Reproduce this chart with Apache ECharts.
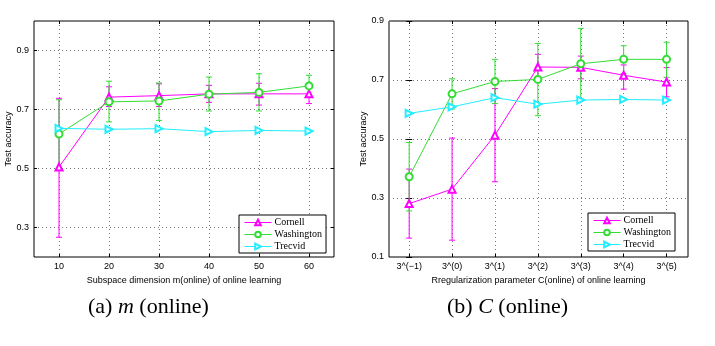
<!DOCTYPE html>
<html><head><meta charset="utf-8">
<script src="https://cdn.jsdelivr.net/npm/echarts@6/dist/echarts.min.js"></script>
<style>html,body{margin:0;padding:0;background:#fff}#c{width:715px;height:346px}</style>
</head><body><div id="c"></div>
<script>
// ---- Data: plot (a) m (online)
const mValues = [10, 20, 30, 40, 50, 60];
const mCornell     = [0.505, 0.742, 0.747, 0.753, 0.753, 0.753];
const mCornellLo   = [0.267, 0.710, 0.710, 0.724, 0.715, 0.720];
const mCornellHi   = [0.738, 0.777, 0.787, 0.782, 0.789, 0.787];
const mWashington   = [0.617, 0.726, 0.729, 0.752, 0.758, 0.780];
const mWashingtonLo = [0.502, 0.658, 0.663, 0.695, 0.695, 0.744];
const mWashingtonHi = [0.733, 0.796, 0.790, 0.810, 0.821, 0.816];
const mTrecvid = [0.636, 0.633, 0.635, 0.625, 0.629, 0.627];
const mYTicks = [0.3, 0.5, 0.7, 0.9];

// ---- Data: plot (b) C (online)
const cLabels = ['3^(\u22121)', '3^(0)', '3^(1)', '3^(2)', '3^(3)', '3^(4)', '3^(5)'];
const cCornell     = [0.281, 0.330, 0.513, 0.744, 0.743, 0.716, 0.693];
const cCornellLo   = [0.164, 0.157, 0.355, 0.700, 0.704, 0.669, 0.643];
const cCornellHi   = [0.398, 0.503, 0.671, 0.787, 0.781, 0.751, 0.742];
const cWashington   = [0.372, 0.653, 0.695, 0.702, 0.755, 0.770, 0.770];
const cWashingtonLo = [0.256, 0.602, 0.620, 0.579, 0.635, 0.722, 0.709];
const cWashingtonHi = [0.488, 0.704, 0.770, 0.824, 0.875, 0.816, 0.828];
const cTrecvid = [0.587, 0.609, 0.640, 0.618, 0.632, 0.634, 0.632];
const cYTicks = [0.1, 0.3, 0.5, 0.7, 0.9];

const seriesNames = ['Cornell', 'Washington', 'Trecvid'];
const COL = {Cornell: '#ff00ff', Washington: '#33dd33', Trecvid: '#22eeff'};

const xsC = cLabels.map((_, i) => i);
const pairs = (xs, ys) => xs.map((x, i) => [x, ys[i]]);
const errData = (xs, lo, hi) => xs.map((x, i) => [x, lo[i], hi[i]]);

function errSeries(name, xi, yi, xs, lo, hi, color) {
  return {
    type: 'custom', name: name + ' err', xAxisIndex: xi, yAxisIndex: yi, z: 1,
    data: errData(xs, lo, hi), encode: {x: 0, y: [1, 2]}, silent: true,
    renderItem: function (params, api) {
      const x = api.value(0);
      const a = api.coord([x, api.value(1)]);
      const b = api.coord([x, api.value(2)]);
      const w = 3;
      const st = {stroke: color, lineWidth: 1};
      return {type: 'group', children: [
        {type: 'line', shape: {x1: a[0], y1: a[1], x2: b[0], y2: b[1]}, style: st},
        {type: 'line', shape: {x1: a[0] - w, y1: a[1], x2: a[0] + w, y2: a[1]}, style: st},
        {type: 'line', shape: {x1: b[0] - w, y1: b[1], x2: b[0] + w, y2: b[1]}, style: st}
      ]};
    }
  };
}
function lineSeries(name, xi, yi, data, symbol, rot) {
  return {
    type: 'line', name: name, xAxisIndex: xi, yAxisIndex: yi, z: 3,
    data: data, symbol: symbol, symbolSize: 7, symbolRotate: rot || 0,
    showAllSymbol: true,
    lineStyle: {color: COL[name], width: 1}, itemStyle: {color: COL[name], borderColor: COL[name], borderWidth: 1},
    emphasis: {disabled: true}, animation: false
  };
}

const tickFont = {fontFamily: 'Liberation Sans, Arial, sans-serif', fontSize: 9, color: '#000'};
const gridLine = {show: true, lineStyle: {color: '#777', type: [1, 3], width: 1}};

function xAxisCfg(gi, min, max, vals, fmt, name, pos) {
  const main = pos === 'bottom';
  return {
    type: 'value', gridIndex: gi, min: min, max: max, position: pos,
    axisLine: {show: false},
    axisTick: {show: true, inside: true, length: 3, customValues: vals, lineStyle: {color: '#000'}},
    axisLabel: main ? Object.assign({customValues: vals, formatter: fmt, margin: 5}, tickFont) : {show: false},
    splitLine: main ? gridLine : {show: false},
    name: main ? name : '', nameLocation: 'middle', nameGap: 17,
    nameTextStyle: {fontFamily: 'Liberation Sans, Arial, sans-serif', fontSize: 9, color: '#000'}
  };
}
function yAxisCfg(gi, min, max, vals, pos) {
  const main = pos === 'left';
  return {
    type: 'value', gridIndex: gi, min: min, max: max, position: pos,
    axisLine: {show: false},
    axisTick: {show: true, inside: true, length: 3, customValues: vals, lineStyle: {color: '#000'}},
    axisLabel: main ? Object.assign({customValues: vals, formatter: v => v.toFixed(1), margin: 5}, tickFont) : {show: false},
    splitLine: main ? gridLine : {show: false},
    name: main ? 'Test accuracy' : '', nameLocation: 'middle', nameGap: 19, nameRotate: 90,
    nameTextStyle: {fontFamily: 'Liberation Sans, Arial, sans-serif', fontSize: 9, color: '#000'}
  };
}

const legendCommon = {
  orient: 'vertical', data: seriesNames, itemWidth: 27, itemHeight: 7, itemGap: 1,
  padding: [2, 4, 1, 5], borderColor: '#000', borderWidth: 1, backgroundColor: '#fff',
  lineStyle: {width: 1},
  textStyle: {fontFamily: 'Liberation Serif, DejaVu Serif, serif', fontSize: 10, lineHeight: 11, color: '#000', padding: [0, 0, 0, -2]},
  selectedMode: false
};

const chart = echarts.init(document.getElementById('c'), null, {renderer: 'canvas'});
chart.setOption({
  animation: false,
  backgroundColor: '#fff',
  grid: [
    {left: 34, top: 21, width: 300, height: 236, show: true, borderColor: '#000', borderWidth: 1},
    {left: 389, top: 21, width: 299, height: 236, show: true, borderColor: '#000', borderWidth: 1}
  ],
  xAxis: [
    xAxisCfg(0, 5, 65, mValues, v => String(v), 'Subspace dimension m(online) of online learning', 'bottom'),
    xAxisCfg(0, 5, 65, mValues, null, '', 'top'),
    xAxisCfg(1, -0.47, 6.5, xsC, v => cLabels[Math.round(v)], 'Rregularization parameter C(online) of online learning', 'bottom'),
    xAxisCfg(1, -0.47, 6.5, xsC, null, '', 'top')
  ],
  yAxis: [
    yAxisCfg(0, 0.2, 1.0, mYTicks, 'left'),
    yAxisCfg(0, 0.2, 1.0, mYTicks, 'right'),
    yAxisCfg(1, 0.1, 0.9, cYTicks, 'left'),
    yAxisCfg(1, 0.1, 0.9, cYTicks, 'right')
  ],
  legend: [
    Object.assign({left: 239, top: 215}, legendCommon),
    Object.assign({left: 588, top: 213}, legendCommon)
  ],
  series: [
    errSeries('Cornell', 0, 0, mValues, mCornellLo, mCornellHi, COL.Cornell),
    errSeries('Washington', 0, 0, mValues, mWashingtonLo, mWashingtonHi, COL.Washington),
    lineSeries('Cornell', 0, 0, pairs(mValues, mCornell), 'emptyTriangle'),
    lineSeries('Washington', 0, 0, pairs(mValues, mWashington), 'emptyCircle'),
    lineSeries('Trecvid', 0, 0, pairs(mValues, mTrecvid), 'emptyTriangle', -90),
    errSeries('Cornell', 2, 2, xsC, cCornellLo, cCornellHi, COL.Cornell),
    errSeries('Washington', 2, 2, xsC, cWashingtonLo, cWashingtonHi, COL.Washington),
    lineSeries('Cornell', 2, 2, pairs(xsC, cCornell), 'emptyTriangle'),
    lineSeries('Washington', 2, 2, pairs(xsC, cWashington), 'emptyCircle'),
    lineSeries('Trecvid', 2, 2, pairs(xsC, cTrecvid), 'emptyTriangle', -90)
  ],
  graphic: [
    {type: 'text', left: 88, top: 296, style: {
      text: '(a) {i|m} (online)', fill: '#000',
      font: '22px "Liberation Serif", "DejaVu Serif", serif',
      rich: {i: {fontFamily: 'Liberation Serif, serif', fontStyle: 'italic', fontSize: 22}}}},
    {type: 'text', left: 447, top: 296, style: {
      text: '(b) {i|C} (online)', fill: '#000',
      font: '22px "Liberation Serif", "DejaVu Serif", serif',
      rich: {i: {fontFamily: 'Liberation Serif, serif', fontStyle: 'italic', fontSize: 22}}}}
  ]
});
</script></body></html>
